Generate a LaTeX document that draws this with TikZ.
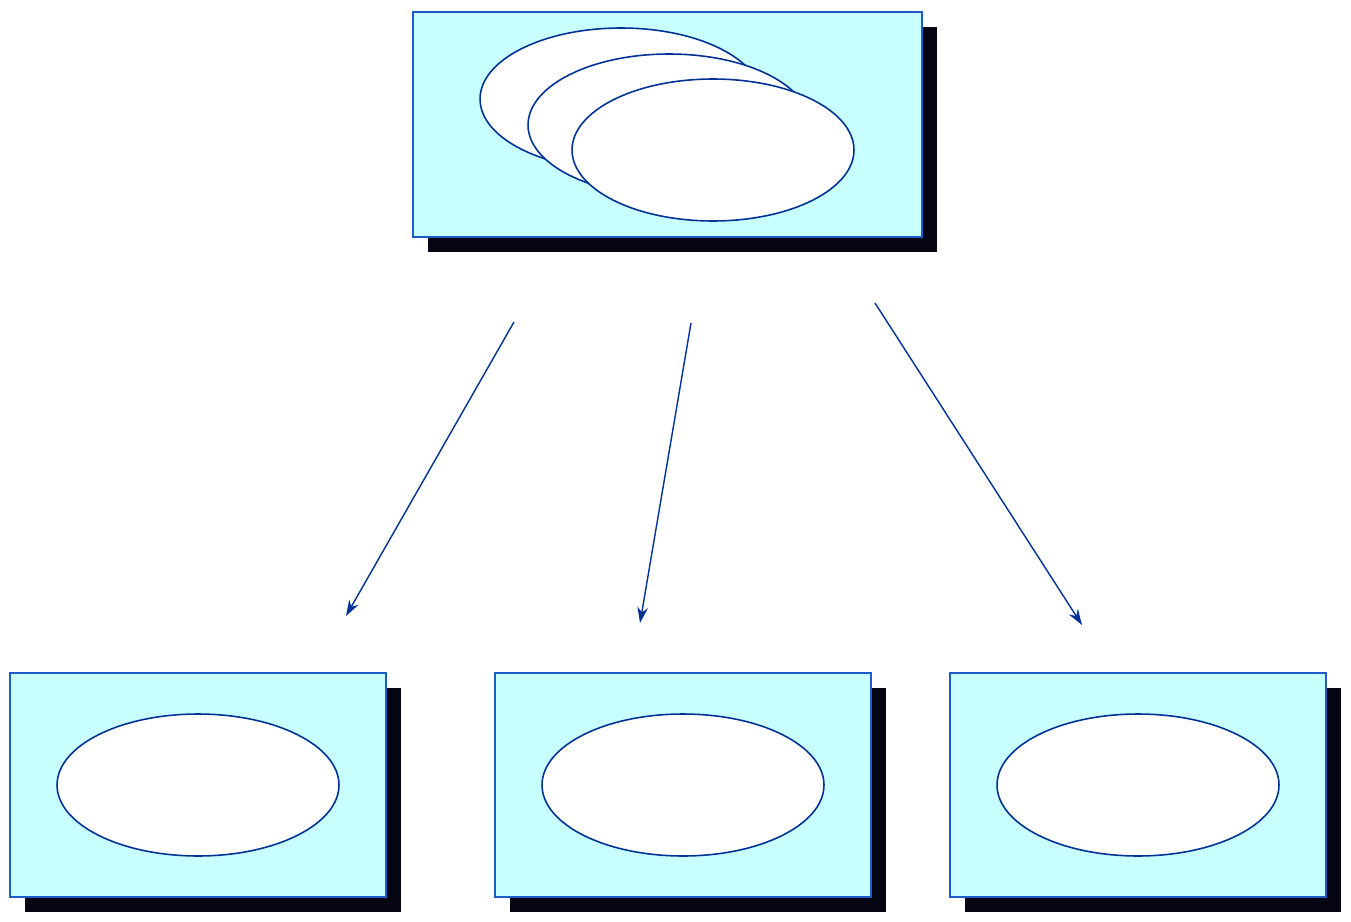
\documentclass[tikz,border=0pt]{standalone}
\usetikzlibrary{shapes.geometric,arrows.meta}
\definecolor{panelfill}{RGB}{200,255,255}
\definecolor{panelline}{RGB}{30,90,200}
\definecolor{ringline}{RGB}{0,50,150}
\definecolor{shadowink}{RGB}{5,5,20}
\tikzset{
  panel/.style = {draw = panelline, fill = panelfill, line width = 0.8pt, inner sep = 0pt, outer sep = 0pt},
  ring/.style = {ellipse, draw = ringline, fill = white, line width = 0.9pt, minimum width = 5.64cm, minimum height = 2.84cm, inner sep = 0pt},
  flow/.style = {draw = ringline, line width = 0.8pt, -{Stealth[length = 9pt, width = 6pt]}}
}
\begin{document}
\begin{tikzpicture}[x = 0.02cm, y = -0.02cm]
\useasboundingbox (0,0) rectangle (1351,922);
\pgfmathsetmacro\off{15};
% top panel with three stacked rings
\fill [shadowink] (413+\off,12+\off) rectangle (922+\off,237+\off);
\node [panel, minimum width = 10.18cm, minimum height = 4.5cm] (top) at (667.5,124.5) {};
\foreach \x/\y/\n in {621/99/1,669/125/2,713/150/3} \node [ring] (topring\n) at (\x,\y) {};
% lower panels
\foreach \x/\n in {198/1,683/2,1138/3} {
  \fill [shadowink] (\x-188+\off,673+\off) rectangle (\x+188+\off,897+\off);
  \node [panel, minimum width = 7.52cm, minimum height = 4.48cm] (low\n) at (\x,785) {};
  \node [ring] (lowring\n) at (\x,785) {};
}
% arrows
\coordinate (from1) at (514,322);
\coordinate (to1) at (346,616);
\coordinate (from2) at (691,323);
\coordinate (to2) at (640,623);
\coordinate (from3) at (875,303);
\coordinate (to3) at (1082,625);
\foreach \n in {1,2,3} \draw [flow] (from\n) -- (to\n);
\end{tikzpicture}
\end{document}
